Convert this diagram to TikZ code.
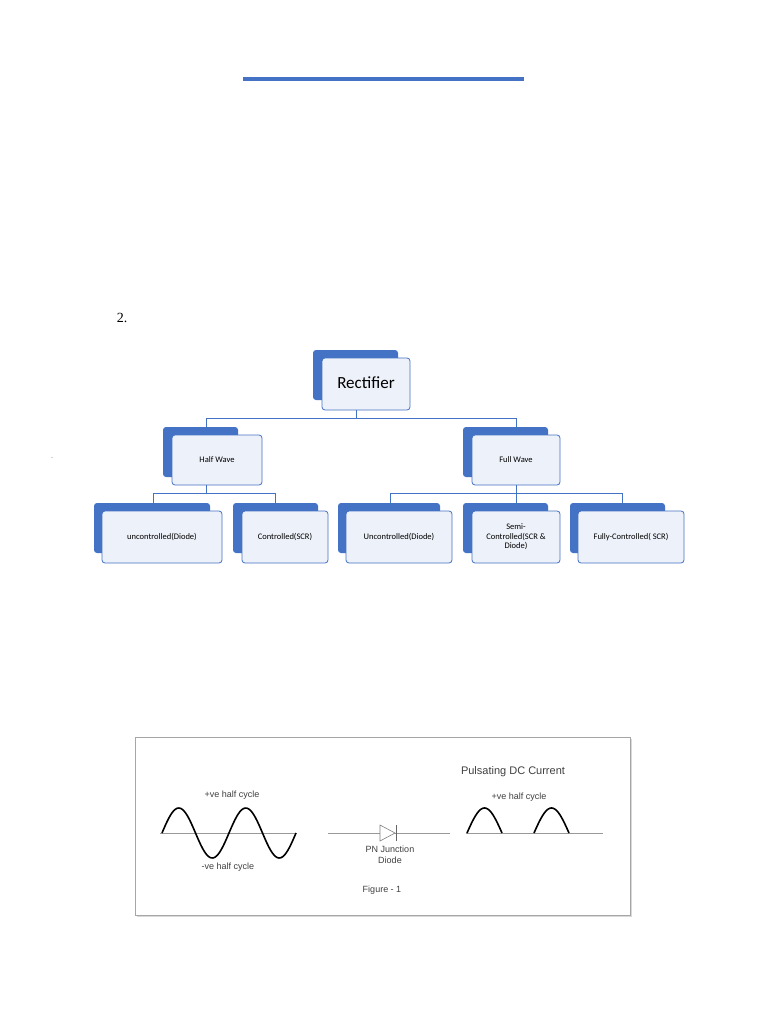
\documentclass[tikz,border=0pt]{standalone}
\usepackage{fontspec}
\setmainfont{Liberation Serif}
\newfontfamily\calfnt{Carlito}
\newfontfamily\arsfnt{Liberation Sans}
\definecolor{bb}{HTML}{4472C4}
\definecolor{lf}{HTML}{EDF1F9}
\begin{document}
\begin{tikzpicture}[x=1pt,y=-1pt,
 back/.style={fill=bb,rounded corners=3pt},
 front/.style={fill=lf,draw=bb,line width=0.8pt,rounded corners=3pt},
 conn/.style={draw=bb,line width=0.8pt},
 lbl/.style={font=\calfnt\fontsize{8.5}{9.5}\selectfont,align=center},
 ft/.style={font=\arsfnt\fontsize{9}{10.5}\selectfont,text=black!75,align=center},
 wave/.style={line width=1.6pt,black}]
\useasboundingbox (0,0) rectangle (768,1024);
\fill[white] (0,0) rectangle (768,1024);
\fill[bb] (243,77) rectangle (524,81);
\node[font=\fontsize{14}{16}\selectfont] (num) at (122,318) {2.};
\node[font=\fontsize{6}{6}\selectfont] (dot) at (52,458) {.};
\newcommand\myrbox[8]{%
 \fill[back] (#2,#6) rectangle (#3,#6+50);
 \draw[front] (#4,#6+8) rectangle (#5,#6+#7);
 \node[lbl] (#1) at ({(#4+#5)/2},{#6+8+(#7-8)/2}) {#8};}
\myrbox{rect}{313}{398}{322}{410}{350}{60}{}
\node[font=\calfnt\fontsize{17}{19}\selectfont] (rt) at (366,383) {Rectifier};
\myrbox{hw}{163}{238}{172}{262}{427}{58}{Half Wave}
\myrbox{fw}{463}{548}{472}{560}{427}{58}{Full Wave}
\myrbox{u1}{94}{210}{102}{222}{503}{60}{uncontrolled(Diode)}
\myrbox{c1}{233}{318}{242}{328}{503}{60}{Controlled(SCR)}
\myrbox{u2}{338}{440}{346}{452}{503}{60}{Uncontrolled(Diode)}
\myrbox{s2}{463}{548}{472}{560}{503}{60}{Semi-\\Controlled(SCR \&\\Diode)}
\myrbox{f2}{570}{665}{578}{684}{503}{60}{Fully-Controlled( SCR)}
\coordinate (r0) at (356,410);
\draw[conn] (r0) -- (356,418) -| (206,435);
\draw[conn] (356,418) -| (516,435);
\draw[conn] (206,485) -- (206,493) -| (153,503);
\draw[conn] (206,493) -| (275,503);
\draw[conn] (516,485) -- (516,493) -| (390,503);
\draw[conn] (516,493) -- (516,503);
\draw[conn] (516,493) -| (622,503);
\fill[black!15] (137,739) rectangle (632,917);
\draw[black!35,fill=white,line width=1pt] (135,737) rectangle (630,915);
\draw[black!40,line width=0.7pt] (160,833) -- (297,833);
\draw[wave,domain=0:134,samples=80] plot ({162+\x},{833-25*sin(\x/67*360)});
\node[ft] (pos) at (232,795) {+ve half cycle};
\node[ft] (neg) at (228,867) {-ve half cycle};
\draw[black!40,line width=0.7pt] (328,833) -- (450,833);
\draw[black!50,line width=0.6pt,fill=white] (380,825) -- (395,833) -- (380,841) -- cycle;
\draw[black!60,line width=0.8pt] (396,825) -- (396,841);
\node[ft] (pn) at (390,855) {PN Junction\\Diode};
\draw[black!40,line width=0.7pt] (466,833) -- (603,833);
\draw[wave,domain=0:35,samples=40] plot ({467+\x},{833-25*sin(\x/35*180)});
\draw[wave,domain=0:35,samples=40] plot ({534+\x},{833-25*sin(\x/35*180)});
\node[ft,font=\arsfnt\fontsize{11}{13}\selectfont] (pd) at (513,772) {Pulsating DC Current};
\node[ft] (pos2) at (519,797) {+ve half cycle};
\node[ft] (fig) at (382,890) {Figure - 1};
\end{tikzpicture}
\end{document}
